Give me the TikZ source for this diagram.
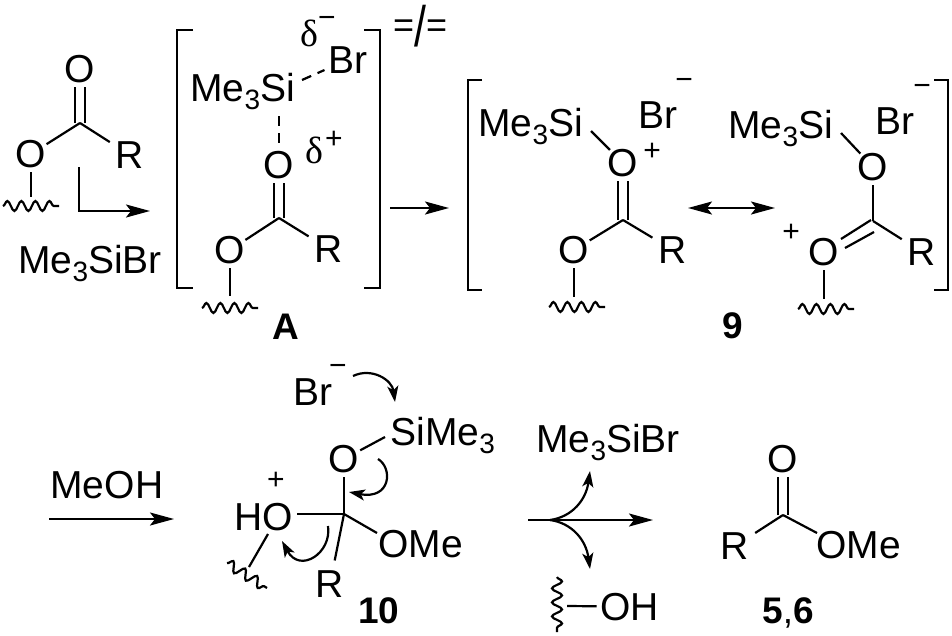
\documentclass[tikz,border=0pt]{standalone}
\usepackage{fontspec}
\setmainfont{Liberation Sans}
\newfontfamily\deltafont{Liberation Serif}
\usetikzlibrary{arrows.meta,decorations.pathmorphing}
\newcommand{\subthree}{\raisebox{-8pt}{\fontsize{28}{28}\selectfont 3}}
\newcommand{\chminus}{{\fontsize{30}{30}\selectfont \char"2212}}
\tikzset{
  atom/.style={circle,inner sep=0pt,outer sep=-2pt,font=\fontsize{39}{40}\selectfont},
  rgroup/.style={atom,minimum size=52pt},
  lbl/.style={anchor=base west,inner sep=0pt,outer sep=4pt,xshift=-1.5pt,font=\fontsize{39}{40}\selectfont},
  cpdno/.style={anchor=base west,inner sep=0pt,font=\fontsize{37}{38}\selectfont\bfseries},
  charge/.style={inner sep=0pt,font=\fontsize{30}{30}\selectfont},
  deltalbl/.style={anchor=base west,inner sep=0pt,font=\fontsize{38}{40}\selectfont\deltafont},
  bond/.style={line width=2.2pt},
  dbond/.style={line width=2.2pt},
  dashbond/.style={line width=2.2pt,dash pattern=on 10pt off 7pt},
  squiggle/.style={line width=2.2pt,decorate,decoration={snake,segment length=14pt,amplitude=5pt}},
  bracket/.style={line width=2.2pt},
  rxn/.style={line width=2.2pt,-{Stealth[length=24pt,width=13pt,inset=5pt]}},
  rxnboth/.style={line width=2.2pt,{Stealth[length=24pt,width=13pt,inset=5pt]}-{Stealth[length=24pt,width=13pt,inset=5pt]}},
  curly/.style={line width=2.2pt,-{Stealth[length=16pt,width=11pt,inset=4pt]}},
}
\begin{document}
\begin{tikzpicture}[x=1pt,y=-1pt]
\useasboundingbox (0,0) rectangle (952,635);
% ester and reagent
\coordinate (cS) at (80,123);
\node [atom] (oS) at (80,69) {O};
\node [atom] (oLS) at (31,154) {O};
\node [rgroup] (rS) at (130,155) {R};
\coordinate (wS) at (31,197);
\draw [dbond] ([xshift=-5pt]cS) -- ([xshift=-5pt]oS.south);
\draw [dbond] ([xshift=5pt]cS) -- ([xshift=5pt]oS.south);
\draw [bond] (cS) -- (oLS);
\draw [bond] (cS) -- (rS);
\draw [bond] (oLS) -- (wS);
\draw [squiggle] (3,206) -- (59,206);
\coordinate (elbS) at (79,167);
\coordinate (elbE) at (150,211);
\draw [rxn] (elbS) |- (elbE);
\node [lbl] (reagS) at (16,273) {Me\subthree SiBr};
% intermediate A
\coordinate (brAtl) at (193,30);
\coordinate (brAbl) at (193,288);
\coordinate (brAtr) at (364,30);
\coordinate (brAbr) at (364,288);
\draw [bracket] (brAtl) -| (177,288) -- (brAbl);
\draw [bracket] (brAtr) -| (380,288) -- (brAbr);
\node [lbl] (siA) at (188,101) {Me\subthree Si};
\node [lbl] (brA) at (326,73) {Br};
\node [deltalbl] (dmA) at (300,46) {δ};
\node [charge] (mA) at (327,22) {\chminus};
\coordinate (siAb) at (302,80);
\draw [dashbond] (siAb) -- (brA);
\node [atom] (oA) at (279,165) {O};
\coordinate (siAd) at (279,116);
\draw [dashbond,shorten >=3pt] (siAd) -- (oA);
\node [deltalbl] (dpA) at (305,163) {δ};
\node [charge] (pA) at (334,140) {+};
\coordinate (cA) at (279,218);
\node [atom] (oLA) at (230,250) {O};
\node [rgroup] (rA) at (329,249) {R};
\coordinate (wA) at (230,296);
\draw [dbond] ([xshift=-5pt]cA) -- ([xshift=-5pt]oA.south);
\draw [dbond] ([xshift=5pt]cA) -- ([xshift=5pt]oA.south);
\draw [bond] (cA) -- (oLA);
\draw [bond] (cA) -- (rA);
\draw [bond] (oLA) -- (wA);
\draw [squiggle] (202,308) -- (258,308);
\node [cpdno] (cpdA) at (272,339) {A};
\node [anchor=base west,inner sep=0pt] (ne) at (393,37) {\fontsize{36}{36}\selectfont =\raisebox{-9pt}{\scalebox{0.75}[1]{\fontsize{57}{57}\selectfont /}}=};
\coordinate (arAs) at (390,208);
\coordinate (arAe) at (449,208);
\draw [rxn] (arAs) -- (arAe);
% resonance forms 9
\coordinate (brBtl) at (482,80);
\coordinate (brBbl) at (482,290);
\coordinate (brBtr) at (934,80);
\coordinate (brBbr) at (934,290);
\draw [bracket] (brBtl) -| (468,290) -- (brBbl);
\draw [bracket] (brBtr) -| (948,290) -- (brBbr);
\node [lbl] (siB) at (476,136) {Me\subthree Si};
\node [lbl] (brB) at (636,128) {Br};
\node [charge] (mB) at (684,84) {\chminus};
\node [atom] (oB) at (623,163) {O};
\node [charge] (pB) at (652,152) {+};
\coordinate (siBb) at (591,131);
\draw [bond] (siBb) -- (oB);
\coordinate (cB) at (623,220);
\node [atom] (oLB) at (574,250) {O};
\node [rgroup] (rB) at (673,250) {R};
\coordinate (wB) at (574,297);
\draw [dbond] ([xshift=-5pt]cB) -- ([xshift=-5pt]oB.south);
\draw [dbond] ([xshift=5pt]cB) -- ([xshift=5pt]oB.south);
\draw [bond] (cB) -- (oLB);
\draw [bond] (cB) -- (rB);
\draw [bond] (oLB) -- (wB);
\draw [squiggle] (549,307) -- (605,307);
\coordinate (resL) at (688,208);
\coordinate (resR) at (775,208);
\draw [rxnboth] (resL) -- (resR);
\node [lbl] (siC) at (726,138) {Me\subthree Si};
\node [lbl] (brC) at (873,134) {Br};
\node [charge] (mC) at (922,90) {\chminus};
\node [atom] (oC) at (873,167) {O};
\coordinate (siCb) at (841,133);
\draw [bond] (siCb) -- (oC);
\coordinate (cC) at (873,221);
\node [atom] (oLC) at (824,252) {O};
\node [rgroup] (rC) at (922,252) {R};
\node [charge] (pC) at (791,233) {+};
\coordinate (wC) at (824,299);
\draw [bond] (oC) -- (cC);
\draw [dbond] ([shift={(-2,-1)}]cC) -- ([shift={(17,-13)}]oLC.center);
\draw [dbond] ([shift={(1,11)}]cC) -- ([shift={(21,-4)}]oLC.center);
\draw [bond] (cC) -- (rC);
\draw [bond] (oLC) -- (wC);
\draw [squiggle] (798,309) -- (854,309);
\node [cpdno] (cpdB) at (722,338) {9};
% methanol step
\node [lbl] (meoh) at (48,498) {MeOH};
\coordinate (arMs) at (49,519);
\coordinate (arMe) at (174,519);
\draw [rxn] (arMs) -- (arMe);
% tetrahedral intermediate 10
\node [lbl] (brT) at (291,405) {Br};
\node [charge] (mT) at (338,370) {\chminus};
\node [lbl] (siT) at (388,445) {SiMe\subthree};
\node [atom] (oT) at (344,459) {O};
\coordinate (cT) at (344,514);
\node [lbl] (hoT) at (232,530) {HO};
\node [charge] (pT) at (276,481) {+};
\node [lbl] (omeT) at (376,557) {OMe};
\node [rgroup] (rT) at (330,584) {R};
\coordinate (siTb) at (385,437);
\coordinate (omeTb) at (377,533);
\coordinate (hoTb) at (268,534);
\coordinate (wT) at (249,567);
\draw [bond] (oT) -- (siTb);
\draw [bond] (oT) -- (cT);
\draw [bond] (cT) -- (cT -| hoT.east);
\draw [bond] (cT) -- (omeTb);
\draw [bond] (cT) -- (rT);
\draw [bond] (hoTb) -- (wT);
\draw [squiggle] (227,563) -- (267,588);
\node [cpdno] (cpdT) at (358,623) {10};
\coordinate (cu1s) at (353,376);
\coordinate (cu1e) at (395,402);
\coordinate (cu2s) at (378,459);
\coordinate (cu2e) at (349,492);
\coordinate (cu3s) at (328,526);
\coordinate (cu3e) at (282,541);
\draw [curly] (cu1s) .. controls (372,367) and (392,380) .. (cu1e);
\draw [curly] (cu2s) .. controls (393,468) and (391,500) .. (cu2e);
\draw [curly] (cu3s) .. controls (332,553) and (300,574) .. (cu3e);
% fragmentation
\coordinate (arFs) at (528,520);
\coordinate (arFe) at (653,520);
\coordinate (arFm) at (550,520);
\coordinate (arFu) at (590,471);
\coordinate (arFd) at (590,569);
\draw [rxn] (arFs) -- (arFe);
\draw [curly] (arFm) .. controls (572,517) and (586,500) .. (arFu);
\draw [curly] (arFm) .. controls (572,523) and (586,540) .. (arFd);
\node [lbl] (reagE) at (534,452) {Me\subthree SiBr};
\node [lbl] (ohE) at (598,620) {OH};
\coordinate (wE) at (567,606);
\draw [bond] (wE) -- (ohE);
\draw [squiggle] (557,577) -- (557,632);
% product
\node [atom] (oE) at (783,459) {O};
\coordinate (cE) at (783,515);
\node [rgroup] (rE) at (735,546) {R};
\node [lbl] (omeE) at (814,558) {OMe};
\coordinate (omeEb) at (817,533);
\draw [dbond] ([xshift=-5pt]cE) -- ([xshift=-5pt]oE.south);
\draw [dbond] ([xshift=5pt]cE) -- ([xshift=5pt]oE.south);
\draw [bond] (cE) -- (rE);
\draw [bond] (cE) -- (omeEb);
\node [cpdno] (cpdE) at (762,623) {5{\mdseries ,}6};
\end{tikzpicture}
\end{document}
